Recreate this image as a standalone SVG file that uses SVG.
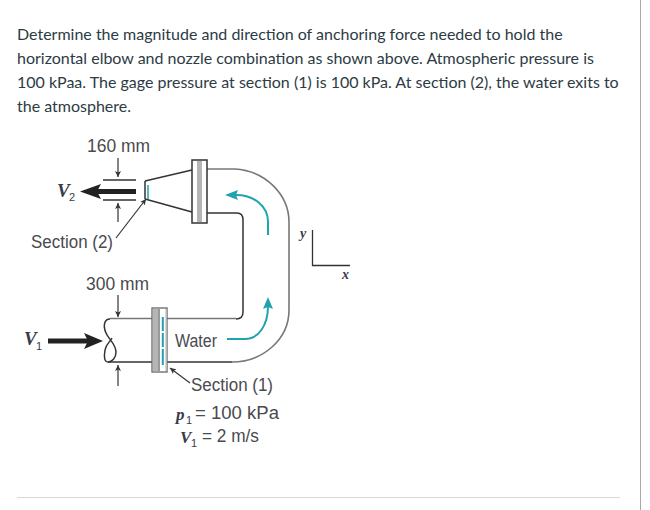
<svg xmlns="http://www.w3.org/2000/svg" width="650" height="510" viewBox="0 0 650 510">
<style>
.q{font-family:Lato,"Liberation Sans",sans-serif;font-size:16px;fill:#2d3b45}
.l{font-family:"Liberation Sans",Arial,sans-serif;font-size:17.500px;fill:#4a4a50}
.v{font-family:"Liberation Serif",serif;font-style:italic;font-weight:bold;fill:#3a3a4a}
.s{font-family:"Liberation Sans",Arial,sans-serif;font-size:11px;fill:#3a3a4a}
.k{fill:none;stroke:#333;stroke-width:1.5}
.g{fill:none;stroke:#777;stroke-width:1.6}
.t{fill:none;stroke:#1fa3b0;stroke-width:2}
.d{fill:none;stroke:#333;stroke-width:1.2}
</style>
<defs>
<marker id="a" markerUnits="userSpaceOnUse" markerWidth="7" markerHeight="7" refX="6" refY="3" orient="auto"><path d="M0 0L6 3L0 6L1.5 3Z" fill="#333"/></marker>
</defs>
<g id="question">
<text class="q" x="17" y="40">Determine the magnitude and direction of anchoring force needed to hold the</text>
<text class="q" x="17" y="63.500">horizontal elbow and nozzle combination as shown above. Atmospheric pressure is</text>
<text class="q" x="17" y="88">100 kPaa. The gage pressure at section (1) is 100 kPa. At section (2), the water exits to</text>
<text class="q" x="17" y="112">the atmosphere.</text>
</g>
<g id="elbow">
<path class="k" d="M145 181V199M145 181L192 170M145 199L192 212"/>
<path class="g" d="M207 169H235C266 171 289 195 289 222V310C289 340 262 362 232 362"/>
<path class="k" d="M232 362H167"/>
<path class="k" d="M207 213H237Q243 213 243 220V312Q243 319 236 319"/>
<path class="g" d="M236 318.500H167M152 318.500H110"/>
<path class="k" d="M152 362H108"/>
<path class="k" stroke-width="1.2" d="M110 319C104 319 103 326 106 333C109 340 116 344 116 352C116 358 112 362 108 362C104 362 104 356 105 350C106 344 110 342 112 338"/>
</g>
<g id="flange-2">
<rect x="192" y="160" width="15" height="63" fill="#fff" stroke="#333" stroke-width="1.5"/>
<rect x="197" y="161" width="5" height="61" fill="#b5b5b5"/>
</g>
<g id="flange-1">
<rect x="152" y="308" width="15" height="64" fill="#fff" stroke="#666" stroke-width="1.3"/>
<rect x="153" y="309" width="5" height="62" fill="#b5b5b5"/>
<rect x="165.500" y="309" width="1.500" height="62" fill="#b5b5b5"/>
<path d="M159 309V371" stroke="#333" stroke-width="1" fill="none"/>
<path d="M162.800 317V331M162.800 333V347M162.800 349V365" stroke="#1fa3b0" stroke-width="2" fill="none"/>
</g>
<g id="section-2">
<path d="M148 185V199" stroke="#1fa3b0" stroke-width="1.5"/>
<text class="l" x="31" y="248" textLength="82" lengthAdjust="spacingAndGlyphs">Section (2)</text>
</g>
<g id="section-1">
<text class="l" x="191" y="391" textLength="82" lengthAdjust="spacingAndGlyphs">Section (1)</text>
<text class="l" x="175" y="347" textLength="42" lengthAdjust="spacingAndGlyphs">Water</text>
</g>
<g id="dimension-160">
<text class="l" x="87" y="152" textLength="63" lengthAdjust="spacingAndGlyphs">160 mm</text>
<path class="k" d="M103 180H136M103 200H136"/>
</g>
<g id="dimension-300">
<text class="l" x="86" y="290" textLength="63" lengthAdjust="spacingAndGlyphs">300 mm</text>
</g>
<g id="velocity-2">
<text class="v" x="57" y="197" font-size="19">V</text><text class="s" x="69" y="201">2</text>
<path d="M136 191.500H96" stroke="#222" stroke-width="5"/>
<path d="M80 191.500L101 184L97 191.500L101 199Z" fill="#222"/>
</g>
<g id="velocity-1">
<text class="v" x="24" y="345" font-size="19">V</text><text class="s" x="36" y="350">1</text>
<path d="M48 341H92" stroke="#222" stroke-width="5"/>
<path d="M103 341L84 333L88 341L84 349Z" fill="#222"/>
</g>
<g id="conditions">
<text class="v" x="176" y="420" font-size="17">p</text><text class="s" x="186" y="424">1</text>
<text class="l" x="195" y="419" textLength="84" lengthAdjust="spacingAndGlyphs">= 100 kPa</text>
<text class="v" x="180" y="443" font-size="17">V</text><text class="s" x="191" y="447">1</text>
<text class="l" x="202" y="442" textLength="57" lengthAdjust="spacingAndGlyphs">= 2 m/s</text>
</g>
<g id="axes">
<path d="M312.500 230V265.500H350" fill="none" stroke="#333" stroke-width="1.3"/>
<text class="v" x="300" y="238" font-size="14">y</text>
<text class="v" x="342" y="279" font-size="14">x</text>
</g>
<g id="connectors">
<path class="t" d="M268 235V222C268 206 254 195 236 195"/>
<path d="M225 195L238 190L236 195L238 200Z" fill="#1fa3b0"/>
<path class="t" d="M227 339H245C258 339 268 326 268 306"/>
<path d="M268 297L263 309L268 307L273 309Z" fill="#1fa3b0"/>
<path class="d" marker-end="url(#a)" d="M118 158V177"/>
<path class="d" marker-end="url(#a)" d="M118 222V203"/>
<path class="d" marker-end="url(#a)" d="M118 295V317"/>
<path class="d" marker-end="url(#a)" d="M118 386V365"/>
<path class="d" marker-end="url(#a)" d="M116 238L146 199"/>
<path class="d" marker-end="url(#a)" d="M190 383L170 368"/>
</g>
<path d="M17 497.500H620" stroke="#d9d9d9" stroke-width="1"/>
<path d="M640.500 0V510" stroke="#aaa" stroke-width="1"/>
</svg>
